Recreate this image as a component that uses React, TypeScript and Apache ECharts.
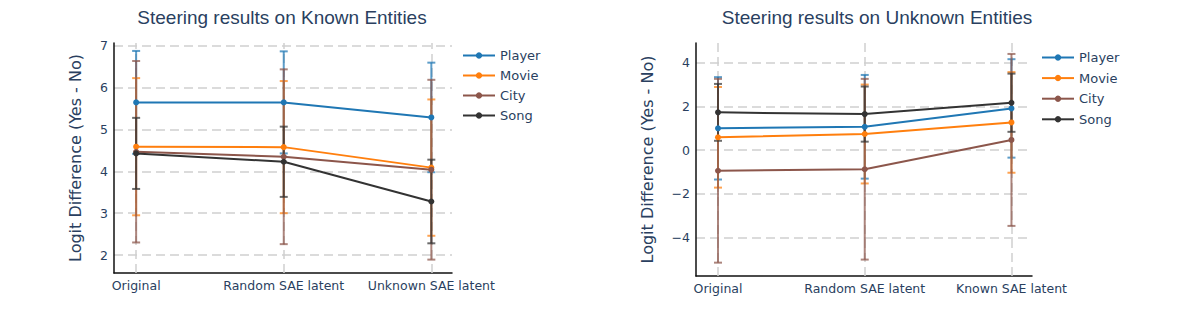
import React, { useEffect, useRef } from "react";
import * as echarts from "echarts";

const knownCategories = ["Original", "Random SAE latent", "Unknown SAE latent"];
const unknownCategories = ["Original", "Random SAE latent", "Known SAE latent"];
const entityNames = ["Player", "Movie", "City", "Song"];
const entityColors = ["#1f77b4", "#ff7f0e", "#8c564b", "#333333"];

// Known entities: means and error (±)
const knownPlayer = [5.65, 5.65, 5.29];
const knownPlayerErr = [1.23, 1.22, 1.31];
const knownMovie = [4.59, 4.58, 4.09];
const knownMovieErr = [1.64, 1.58, 1.63];
const knownCity = [4.47, 4.35, 4.04];
const knownCityErr = [2.17, 2.09, 2.15];
const knownSong = [4.43, 4.23, 3.28];
const knownSongErr = [0.85, 0.84, 1.0];

// Unknown entities: means and error (±)
const unknownPlayer = [1.0, 1.07, 1.91];
const unknownPlayerErr = [2.34, 2.37, 2.25];
const unknownMovie = [0.59, 0.74, 1.27];
const unknownMovieErr = [2.3, 2.26, 2.3];
const unknownCity = [-0.94, -0.87, 0.47];
const unknownCityErr = [4.2, 4.13, 3.93];
const unknownSong = [1.73, 1.65, 2.17];
const unknownSongErr = [1.3, 1.26, 1.33];

const knownTitle = "Steering results on Known Entities";
const unknownTitle = "Steering results on Unknown Entities";
const yTitle = "Logit Difference (Yes - No)";

const TEXT = "#2a3f5f";
const FONT = "DejaVu Sans";

export default function App() {
  const ref = useRef<HTMLDivElement>(null);
  useEffect(() => {
    if (!ref.current) return;
    const chart = echarts.init(ref.current, null, { renderer: "svg" });

    const knownVals = [knownPlayer, knownMovie, knownCity, knownSong];
    const knownErrs = [knownPlayerErr, knownMovieErr, knownCityErr, knownSongErr];
    const unknownVals = [unknownPlayer, unknownMovie, unknownCity, unknownSong];
    const unknownErrs = [unknownPlayerErr, unknownMovieErr, unknownCityErr, unknownSongErr];

    const series: any[] = [];
    const addGrid = (gi: number, vals: number[][], errs: number[][]) => {
      vals.forEach((v, si) => {
        const color = entityColors[si];
        series.push({
          type: "custom",
          xAxisIndex: gi,
          yAxisIndex: gi,
          silent: true,
          data: v.map((m, i) => [i, m - errs[si][i], m + errs[si][i]]),
          renderItem: (params: any, api: any) => {
            const x = api.value(0);
            const lo = api.coord([x, api.value(1)]);
            const hi = api.coord([x, api.value(2)]);
            const cw = 4;
            const style = { stroke: color, lineWidth: 2, opacity: 0.72 };
            return {
              type: "group",
              children: [
                { type: "line", shape: { x1: lo[0], y1: lo[1], x2: hi[0], y2: hi[1] }, style },
                { type: "line", shape: { x1: lo[0] - cw, y1: lo[1], x2: lo[0] + cw, y2: lo[1] }, style },
                { type: "line", shape: { x1: hi[0] - cw, y1: hi[1], x2: hi[0] + cw, y2: hi[1] }, style },
              ],
            };
          },
          z: 3,
        });
        series.push({
          type: "line",
          name: entityNames[si],
          xAxisIndex: gi,
          yAxisIndex: gi,
          data: v.map((m, i) => [i, m]),
          symbol: "circle",
          symbolSize: 6,
          lineStyle: { color, width: 2 },
          itemStyle: { color },
          z: 3,
          ...(si === 0
            ? {
                markLine: {
                  silent: true,
                  symbol: "none",
                  label: { show: false },
                  lineStyle: { color: "#cfcfcf", type: [9, 5], width: 1.5 },
                  data: [0, 1, 2].map((c) => ({ xAxis: c })),
                  z: 1,
                },
              }
            : {}),
        });
      });
    };
    addGrid(0, knownVals, knownErrs);
    addGrid(1, unknownVals, unknownErrs);

    const xAxis = (gi: number, cats: string[], max: number) => ({
      type: "value",
      gridIndex: gi,
      min: -0.15,
      max,
      axisLine: { show: true, onZero: false, lineStyle: { color: "#111", width: 1.5 } },
      axisTick: { show: false, customValues: [0, 1, 2] },
      splitLine: { show: false },
      axisLabel: {
        customValues: [0, 1, 2],
        formatter: (v: number) => cats[Math.round(v)] ?? "",
        color: TEXT,
        fontFamily: FONT,
        fontSize: 12.5,
        margin: 6,
      },
    });
    const yAxis = (gi: number, min: number, max: number, gap: number) => ({
      type: "value",
      gridIndex: gi,
      min,
      max,
      name: yTitle,
      nameLocation: "middle",
      nameGap: gap,
      nameTextStyle: { color: TEXT, fontFamily: FONT, fontSize: 16 },
      axisLine: { show: true, onZero: false, lineStyle: { color: "#111", width: 1.5 } },
      axisTick: { show: false },
      splitLine: {
        show: true,
        showMinLine: false,
        showMaxLine: false,
        lineStyle: { color: "#cfcfcf", type: [9, 5], width: 1.5 },
      },
      axisLabel: {
        showMinLabel: false,
        showMaxLabel: false,
        color: TEXT,
        fontFamily: FONT,
        fontSize: 12.5,
        margin: 6,
        formatter: (v: number) => (v < 0 ? "\u2212" + Math.abs(v) : String(v)),
      },
    });

    const legend = (left: number, top: number, gap: number) => ({
      orient: "vertical",
      left,
      top,
      itemWidth: 32,
      itemHeight: 8,
      itemGap: gap,
      data: entityNames,
      textStyle: { color: TEXT, fontFamily: FONT, fontSize: 13, padding: [0, 0, 0, 0] },
    });

    chart.setOption({
      animation: false,
      backgroundColor: "#fff",
      title: [
        {
          text: knownTitle,
          left: 277,
          top: 3,
          textAlign: "center",
          textStyle: { color: TEXT, fontFamily: "Liberation Sans", fontWeight: "normal", fontSize: 19 },
        },
        {
          text: unknownTitle,
          left: 872,
          top: 3,
          textAlign: "center",
          textStyle: { color: TEXT, fontFamily: "Liberation Sans", fontWeight: "normal", fontSize: 19 },
        },
      ],
      legend: [legend(457, 44, 7), legend(1036, 46, 7.6)],
      grid: [
        { left: 114, top: 43, width: 338, height: 230, containLabel: false },
        { left: 696, top: 43, width: 336, height: 233, containLabel: false },
      ],
      xAxis: [xAxis(0, knownCategories, 2.14), xAxis(1, unknownCategories, 2.14)],
      yAxis: [yAxis(0, 1.57, 7.07, 31), yAxis(1, -5.75, 4.9, 41)],
      series,
    });
    return () => chart.dispose();
  }, []);
  return (
    <div
      ref={ref}
      style={{ position: "fixed", left: 0, top: 0, width: 1192, height: 326, background: "#fff" }}
    />
  );
}
